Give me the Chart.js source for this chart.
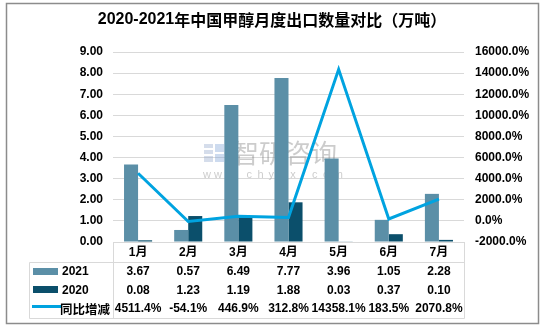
<!DOCTYPE html>
<html><head><meta charset="utf-8">
<script src="https://cdn.jsdelivr.net/npm/chart.js@4/dist/chart.umd.min.js"></script>
<style>html,body{margin:0;padding:0;background:#fff;}canvas{display:block;}</style>
</head><body>
<canvas id="c" width="544" height="328"></canvas>
<script>
const titleYears = '2020-2021';
const titleRest = '年中国甲醇月度出口数量对比（万吨）';
const categories = ['1月','2月','3月','4月','5月','6月','7月'];
const seriesNames = ['2021','2020','同比增减'];
const values2021 = [3.67,0.57,6.49,7.77,3.96,1.05,2.28];
const values2020 = [0.08,1.23,1.19,1.88,0.03,0.37,0.10];
const yoyChange = [4511.4,-54.1,446.9,312.8,14358.1,183.5,2070.8];
const leftAxis = {min:0, max:9, step:1};
const rightAxis = {min:-2000, max:16000, step:2000};

const C2021 = '#5B8FA7', C2020 = '#0B4F6B', CLINE = '#00A3E0', GRID = '#D9D9D9';
const FONT = "'Liberation Sans', Arial, 'Noto Sans CJK SC', sans-serif";

const deco = {
  id:'deco',
  beforeDraw(chart){
    const ctx = chart.ctx;
    ctx.save(); ctx.fillStyle='#fff'; ctx.fillRect(0,0,chart.width,chart.height); ctx.restore();
  },
  beforeDatasetsDraw(chart){
    const ctx = chart.ctx;
    ctx.save();
    // watermark
    ctx.fillStyle='rgba(150,170,205,0.4)';
    ctx.fillRect(204,144,9,4); ctx.fillRect(204,150,9,4); ctx.fillRect(204,156,9,6);
    ctx.fillStyle='rgba(130,165,215,0.4)';
    ctx.fillRect(215,144,9,8); ctx.fillRect(215,154,9,8);
    ctx.fillStyle='rgba(120,120,120,0.38)';
    ctx.font="26px 'Noto Sans CJK SC', sans-serif";
    ctx.textBaseline='middle'; ctx.textAlign='left';
    ctx.fillText('智研咨询',233,153);
    ctx.font="11px 'Liberation Sans', sans-serif";
    const url='www.chyxx.com'; let ux=203;
    for(const ch of url){ ctx.fillText(ch,ux,175); ux+=10.9; }
    ctx.restore();
  },
  afterDraw(chart){
    const ctx = chart.ctx, x = chart.scales.x, a = chart.chartArea;
    ctx.save();
    // title
    ctx.textBaseline='middle';
    ctx.font="bold 16px 'Liberation Sans', Arial, sans-serif";
    const w1 = ctx.measureText(titleYears).width;
    const f2 = "bold 16px 'Noto Sans CJK SC', sans-serif";
    ctx.font=f2; const w2 = ctx.measureText(titleRest).width;
    let tx = 272 - (w1+w2)/2;
    ctx.fillStyle='#000'; ctx.textAlign='left';
    ctx.font="bold 16px 'Liberation Sans', Arial, sans-serif";
    ctx.fillText(titleYears,tx,20);
    ctx.font=f2; ctx.fillText(titleRest,tx+w1,20);

    // data table
    const top=a.bottom, hdrB=262, bot=318, leftT=29;
    const rowH=(bot-hdrB)/3;
    ctx.strokeStyle=GRID; ctx.lineWidth=1;
    ctx.beginPath();
    ctx.moveTo(a.left+0.5,top); ctx.lineTo(a.left+0.5,bot+0.5);
    ctx.moveTo(a.right+0.5,top); ctx.lineTo(a.right+0.5,bot+0.5);
    ctx.moveTo(leftT+0.5,hdrB+0.5); ctx.lineTo(a.right+0.5,hdrB+0.5);
    ctx.moveTo(leftT+0.5,hdrB+0.5); ctx.lineTo(leftT+0.5,bot+0.5);
    ctx.moveTo(leftT+0.5,bot+0.5); ctx.lineTo(a.right+0.5,bot+0.5);
    ctx.stroke();
    // x axis line
    ctx.beginPath(); ctx.moveTo(a.left,top+0.5); ctx.lineTo(a.right+1,top+0.5); ctx.stroke();

    ctx.fillStyle='#000'; ctx.textAlign='center';
    ctx.font="bold 12px 'Liberation Sans', Arial, 'Noto Sans CJK SC', sans-serif";
    const rows=[values2021.map(v=>v.toFixed(2)), values2020.map(v=>v.toFixed(2)), yoyChange.map(v=>v.toFixed(1)+'%')];
    categories.forEach((c,i)=>{
      const cx=x.getPixelForValue(i);
      ctx.fillText(c,cx,253);
      rows.forEach((r,j)=>ctx.fillText(r[i],cx,hdrB+rowH*(j+0.5)+0.5));
    });
    // legend keys
    ctx.fillStyle=C2021; ctx.fillRect(33,268,25,7);
    ctx.fillStyle=C2020; ctx.fillRect(33,286,25,7);
    ctx.strokeStyle=CLINE; ctx.lineWidth=3;
    ctx.beginPath(); ctx.moveTo(32,306.5); ctx.lineTo(61,306.5); ctx.stroke();
    ctx.fillStyle='#000'; ctx.textAlign='left';
    ctx.fillText(seriesNames[0],62,hdrB+rowH*0.5+0.5);
    ctx.fillText(seriesNames[1],62,hdrB+rowH*1.5+0.5);
    ctx.font="bold 12.5px 'Noto Sans CJK SC', sans-serif";
    ctx.fillText(seriesNames[2],60,hdrB+rowH*2.5+0.5);

    // outer border
    ctx.strokeStyle='#8C8C8C'; ctx.lineWidth=1.5;
    ctx.strokeRect(6.5,3.5,532,320);
    ctx.restore();
  }
};

new Chart(document.getElementById('c'),{
  data:{
    labels:categories,
    datasets:[
      {type:'line',label:seriesNames[2],data:yoyChange,yAxisID:'y1',borderColor:CLINE,borderWidth:3,pointRadius:0,tension:0,order:0},
      {type:'bar',label:seriesNames[0],data:values2021,yAxisID:'y',backgroundColor:C2021,categoryPercentage:0.56,barPercentage:1,order:1},
      {type:'bar',label:seriesNames[1],data:values2020,yAxisID:'y',backgroundColor:C2020,categoryPercentage:0.56,barPercentage:1,order:2}
    ]
  },
  options:{
    responsive:false, animation:false, devicePixelRatio:1,
    layout:{padding:{top:52,bottom:86,left:0,right:0}},
    plugins:{legend:{display:false},title:{display:false},tooltip:{enabled:false}},
    scales:{
      x:{display:false, offset:true},
      y:{position:'left',min:leftAxis.min,max:leftAxis.max,
         ticks:{stepSize:leftAxis.step,padding:10,color:'#000',font:{family:FONT,size:12,weight:'bold'},callback:v=>Number(v).toFixed(2)},
         grid:{color:GRID,drawTicks:false}, border:{display:false},
         afterFit(s){s.width=113;}},
      y1:{position:'right',min:rightAxis.min,max:rightAxis.max,
         ticks:{stepSize:rightAxis.step,padding:11,color:'#000',font:{family:FONT,size:12,weight:'bold'},callback:v=>Number(v).toFixed(1)+'%'},
         grid:{display:false,drawTicks:false}, border:{display:false},
         afterFit(s){s.width=80;}}
    }
  },
  plugins:[deco]
});
</script>
</body></html>
